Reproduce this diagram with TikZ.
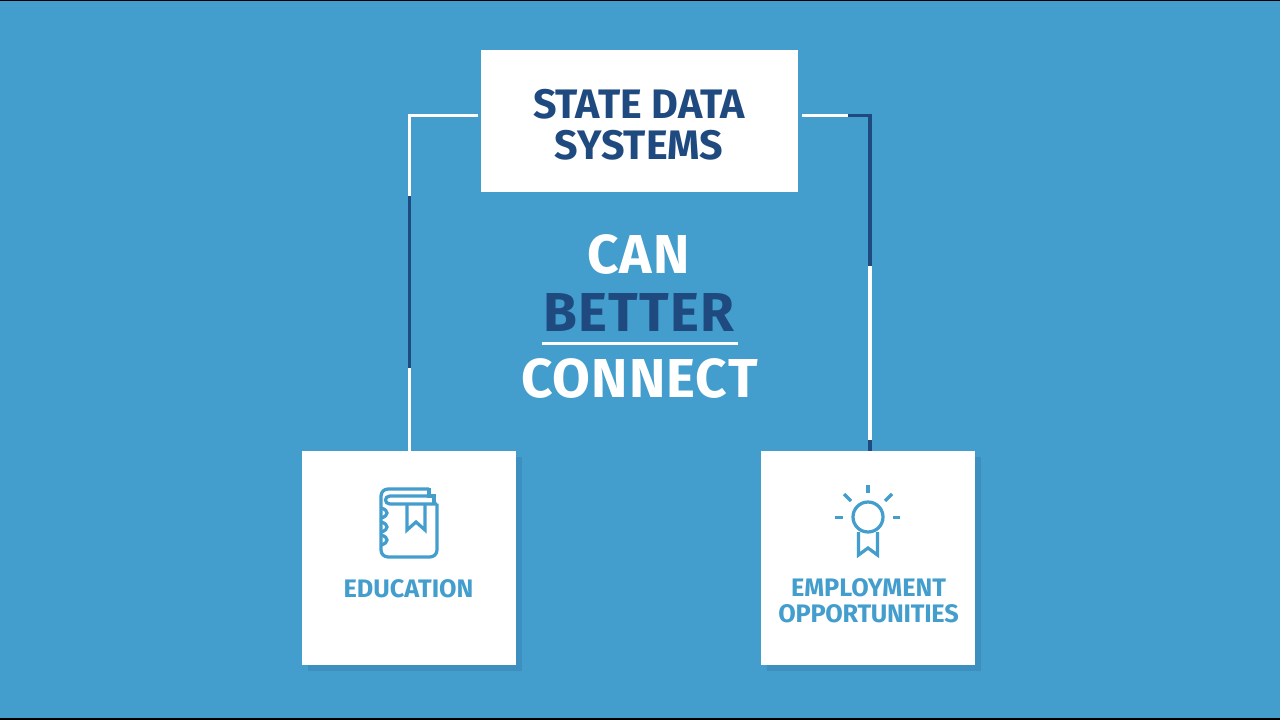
\documentclass[tikz,border=0pt]{standalone}
\usepackage{fontspec}
\usepackage{xcolor}
\setmainfont{Fira Sans}
\definecolor{skyback}{HTML}{439ECE}
\definecolor{skyshade}{HTML}{3C8FBF}
\definecolor{navyline}{HTML}{1F4A7F}
\tikzset{
  tile/.style={fill=white,inner sep=0pt,minimum width=5.35cm,minimum height=5.35cm},
  tileshade/.style={fill=skyshade,inner sep=0pt,minimum width=5.35cm,minimum height=5.35cm},
  wire/.style={line width=2.2pt,white},
  navywire/.style={line width=2.2pt,navyline},
  icon/.style={line width=2.3pt,skyback},
  bigword/.style={anchor=base,inner sep=0pt,font=\fontsize{39}{39}\selectfont\bfseries\addfontfeature{LetterSpace=2}},
  topword/.style={anchor=base,inner sep=0pt,navyline,font=\fontsize{29.3}{29.3}\selectfont\bfseries},
  smallword/.style={anchor=base,inner sep=0pt,skyback,font=\fontsize{18}{18}\selectfont\bfseries}
}
\begin{document}
\begin{tikzpicture}[x=0.025cm,y=-0.025cm]
  \useasboundingbox (0,0) rectangle (1280,720);
  \fill[skyback] (0,0) rectangle (1280,720);
  \fill[black] (0,0) rectangle (1280,1.5);
  \fill[black] (0,718) rectangle (1280,720);

  \node[tileshade] (eduback) at (415,564) {};
  \node[tileshade] (jobback) at (874,564) {};
  \node[tile] (edu) at (409,558) {};
  \node[tile] (job) at (868,558) {};
  \node[fill=white,inner sep=0pt,minimum width=7.925cm,minimum height=3.55cm] (state) at (639.5,121) {};

  \coordinate (lefttop) at (478,115.5);
  \coordinate (leftcorner) at (409.6,115.5);
  \coordinate (leftnavy) at (409.6,196);
  \coordinate (leftwhite) at (409.6,368);
  \coordinate (leftfoot) at (409.6,451);
  \coordinate (righttop) at (802,115.5);
  \coordinate (rightnavy) at (848,115.5);
  \coordinate (rightcorner) at (870,115.5);
  \coordinate (rightwhite) at (870,266);
  \coordinate (rightend) at (870,440);
  \coordinate (rightfoot) at (870,451);
  \coordinate (ruleleft) at (542,343.5);
  \coordinate (ruleright) at (738,343.5);

  \draw[wire] (lefttop) -- (leftcorner) -- (leftnavy);
  \draw[navywire] (leftnavy) -- (leftwhite);
  \draw[wire] (leftwhite) -- (leftfoot);
  \draw[wire] (righttop) -- (rightnavy);
  \draw[navywire] (rightnavy) -- (rightcorner) -- (rightwhite);
  \draw[wire] (rightwhite) -- (rightend);
  \draw[navywire] (rightend) -- (rightfoot);
  \draw[line width=2.5pt,white] (ruleleft) -- (ruleright);

  \node[topword] (stateone) at (639,119) {STATE DATA};
  \node[topword] (statetwo) at (639,160) {SYSTEMS};
  \node[bigword,white] (can) at (638.5,274) {CAN};
  \node[bigword,navyline] (better) at (639,332) {BETTER};
  \node[bigword,white] (connect) at (639.5,398) {CONNECT};
  \node[smallword] (edutext) at (408.5,597) {EDUCATION};
  \node[smallword] (jobone) at (868.5,596) {EMPLOYMENT};
  \node[smallword] (jobtwo) at (868.5,622) {\addfontfeature{LetterSpace=-1}OPPORTUNITIES};

  \draw[icon,rounded corners=5pt] (429,489) -- (381,489) -- (381,557) -- (437,557) -- (437,503.5);
  \draw[icon] (437,504) -- (390,504) .. controls (384,504) and (384,496) .. (390,496) -- (429,496);
  \draw[icon] (429,488) -- (429,496) -- (434,496) -- (434,504);
  \draw[icon] (407,504) -- (407,530) -- (416,522) -- (425,530) -- (425,504);
  \draw[icon] (381,508) .. controls (389,510) and (389,516) .. (381,518);
  \draw[icon] (381,522) .. controls (389,524) and (389,530) .. (381,532);
  \draw[icon] (381,535) .. controls (389,537) and (389,543) .. (381,545);

  \draw[icon] (868,517) circle [radius=15];
  \draw[icon] (858.5,532) -- (858.5,555) -- (868,548) -- (877.5,555) -- (877.5,532);
  \draw[icon] (868,485) -- (868,493);
  \draw[icon] (835,517.5) -- (843,517.5);
  \draw[icon] (893,517.5) -- (900,517.5);
  \draw[icon] (844,494) -- (851,501);
  \draw[icon] (892,494) -- (885,501);
\end{tikzpicture}
\end{document}
